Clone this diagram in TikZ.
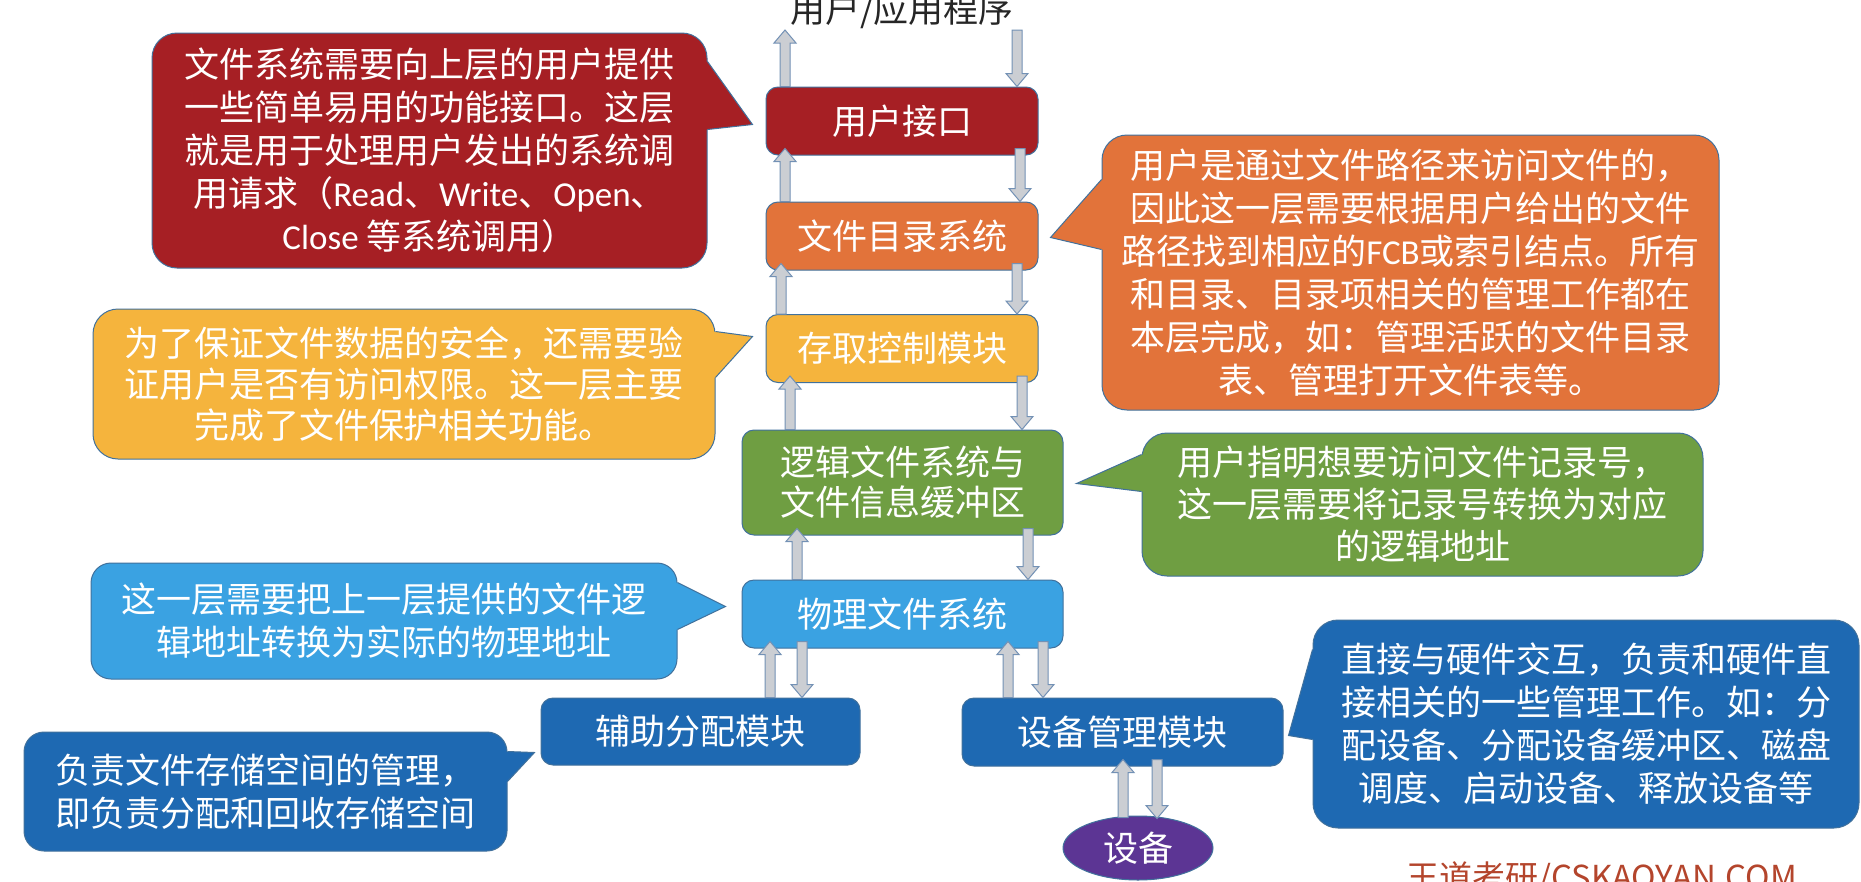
\documentclass[tikz,border=0pt]{standalone}
\usepackage{fontspec}
\setmainfont{Noto Sans CJK SC}
\newfontfamily\lat{Carlito}
\usetikzlibrary{calc,shapes.geometric}
\definecolor{cred}{HTML}{A61F24}
\definecolor{corg}{HTML}{E2733A}
\definecolor{camb}{HTML}{F5B43D}
\definecolor{cgrn}{HTML}{6F9E42}
\definecolor{clb}{HTML}{3AA2E2}
\definecolor{cdb}{HTML}{1E69B2}
\definecolor{cpur}{HTML}{5C3594}
\definecolor{edgec}{HTML}{41719C}
\definecolor{arrf}{HTML}{CBCED3}
\definecolor{arrd}{HTML}{7391B5}
\definecolor{wmc}{HTML}{B4452C}
\tikzset{
 lay/.style={draw=edgec, line width=1pt, fill=#1, rounded corners=12pt, text=white, inner sep=0pt,
   minimum height=68pt, minimum width=272pt, font=\fontsize{35}{40}\selectfont, align=center},
 call/.style={draw=edgec, line width=1pt, fill=#1, rounded corners=25pt, text=white, inner sep=0pt,
   font=\fontsize{35}{43}\selectfont, align=center},
 blk/.style={draw=arrd, fill=arrf, line width=1pt, line join=miter},
 ptr/.style={draw=edgec, line width=1pt},
}
\newcommand\UpArr[2]{\draw[blk] let \p1=#1, \p2=#2 in (\x1-5pt,\y1) -- (\x1-5pt,\y2-13pt) -- (\x1-11pt,\y2-13pt) -- (\x1,\y2) -- (\x1+11pt,\y2-13pt) -- (\x1+5pt,\y2-13pt) -- (\x1+5pt,\y1) -- cycle;}
\newcommand\DnArr[2]{\draw[blk] let \p1=#1, \p2=#2 in (\x1-5pt,\y1) -- (\x1-5pt,\y2+13pt) -- (\x1-11pt,\y2+13pt) -- (\x1,\y2) -- (\x1+11pt,\y2+13pt) -- (\x1+5pt,\y2+13pt) -- (\x1+5pt,\y1) -- cycle;}
\newcommand\Ptr[5]{%
 \fill[#1] let \p1=#2, \p2=#3, \p3=#4 in (\x1,\y1) -- (\x3,\y3) -- (\x2,\y2) -- (\x2#5,\y2) -- (\x1#5,\y1) -- cycle;
 \draw[ptr] #2 -- #4 -- #3;}
\begin{document}
\begin{tikzpicture}[x=1pt,y=-1pt]
\useasboundingbox (0,0) rectangle (1861,881);
\fill[white] (0,0) rectangle (1861,881);

% title and watermark
\node[anchor=base, font=\fontsize{35}{42}\selectfont, text=black!85] (app) at (902,22) {用户/应用程序};
\node[anchor=base, font=\fontsize{33}{40}\selectfont, text=wmc] (wmk) at (1602,889) {王道考研/CSKAOYAN.COM};

% layers
\node[lay=cred] (ui) at (902,121) {用户接口};
\node[lay=corg] (fd) at (902,236) {文件目录系统};
\node[lay=camb] (ac) at (902,348.5) {存取控制模块};
\node[lay=cgrn, minimum width=321pt, minimum height=105pt] (lg) at (902.5,482.5) {逻辑文件系统与\\文件信息缓冲区};
\node[lay=clb, minimum width=321pt] (ph) at (902.5,614) {物理文件系统};
\node[lay=cdb, minimum width=319pt, minimum height=67pt] (aux) at (700.5,731.5) {辅助分配模块};
\node[lay=cdb, minimum width=321pt] (dm) at (1122.5,732) {设备管理模块};
\node[ellipse, draw=edgec, line width=1pt, fill=cpur, text=white, inner sep=0pt, minimum width=150pt, minimum height=64pt,
  font=\fontsize{35}{40}\selectfont] (dev) at (1138,848) {设备};

% callouts
\node[call=cred, minimum width=555pt, minimum height=235pt] (rc) at (429.5,150.5)
 {文件系统需要向上层的用户提供\\一些简单易用的功能接口。这层\\就是用于处理用户发出的系统调\\用请求（{\lat Read}、{\lat Write}、{\lat Open}、\\{\lat Close} 等系统调用）};
\node[call=corg, minimum width=617pt, minimum height=275pt] (oc) at (1410.5,272.5)
 {用户是通过文件路径来访问文件的，\\因此这一层需要根据用户给出的文件\\路径找到相应的{\lat FCB}或索引结点。所有\\和目录、目录项相关的管理工作都在\\本层完成，如：管理活跃的文件目录\\表、管理打开文件表等。};
\node[call=camb, minimum width=622pt, minimum height=150pt, font=\fontsize{35}{41}\selectfont] (yc) at (404,384)
 {为了保证文件数据的安全，还需要验\\证用户是否有访问权限。这一层主要\\完成了文件保护相关功能。};
\node[call=cgrn, minimum width=561pt, minimum height=143pt, font=\fontsize{35}{42}\selectfont] (gc) at (1422.5,504.5)
 {用户指明想要访问文件记录号，\\这一层需要将记录号转换为对应\\的逻辑地址};
\node[call=clb, minimum width=586pt, minimum height=116pt, rounded corners=20pt] (bc) at (384,621)
 {这一层需要把上一层提供的文件逻\\辑地址转换为实际的物理地址};
\node[call=cdb, minimum width=483pt, minimum height=119pt, rounded corners=20pt] (xc) at (265.5,791.5)
 {负责文件存储空间的管理，\\即负责分配和回收存储空间};
\node[call=cdb, minimum width=546pt, minimum height=208pt] (dc) at (1586,724)
 {直接与硬件交互，负责和硬件直\\接相关的一些管理工作。如：分\\配设备、分配设备缓冲区、磁盘\\调度、启动设备、释放设备等};

% pointers
\Ptr{cred}{($(rc.north east)+(0,29)$)}{($(rc.north east)+(0,97)$)}{($(rc.north east)+(45,92)$)}{-3pt}
\Ptr{corg}{($(oc.north west)+(0,45)$)}{($(oc.north west)+(0,115)$)}{($(oc.north west)+(-51,103)$)}{+3pt}
\Ptr{camb}{($(yc.north east)+(0,23)$)}{($(yc.north east)+(0,69)$)}{($(yc.north east)+(37,28)$)}{-3pt}
\Ptr{cgrn}{($(gc.north west)+(0,22)$)}{($(gc.north west)+(0,59)$)}{($(gc.north west)+(-65,51)$)}{+3pt}
\Ptr{clb}{($(bc.north east)+(0,20)$)}{($(bc.north east)+(0,67)$)}{($(bc.north east)+(48,44)$)}{-3pt}
\Ptr{cdb}{($(xc.north east)+(0,20)$)}{($(xc.north east)+(0,50)$)}{($(xc.north east)+(27,21)$)}{-3pt}
\Ptr{cdb}{($(dc.north west)+(0,30)$)}{($(dc.north west)+(0,120)$)}{($(dc.north west)+(-24,116)$)}{+3pt}

% arrows
\coordinate (t1) at (785,30);
\coordinate (t2) at (1017,30);
\UpArr{($(ui.north)+(-117,0)$)}{(t1)}
\DnArr{(t2)}{($(ui.north)+(115,0)$)}
\UpArr{($(fd.north)+(-117,0)$)}{($(ui.south)+(-117,-7)$)}
\DnArr{($(ui.south)+(118,-7)$)}{($(fd.north)+(118,0)$)}
\UpArr{($(ac.north)+(-121,0)$)}{($(fd.south)+(-121,-7)$)}
\DnArr{($(fd.south)+(115,-7)$)}{($(ac.north)+(115,0)$)}
\UpArr{($(lg.north)+(-112.5,0)$)}{($(ac.south)+(-112,-7)$)}
\DnArr{($(ac.south)+(120,-7)$)}{($(lg.north)+(119.5,0)$)}
\UpArr{($(ph.north)+(-105.5,0)$)}{($(lg.south)+(-105.5,-7)$)}
\DnArr{($(lg.south)+(125.5,-7)$)}{($(ph.north)+(125.5,0)$)}
\UpArr{($(aux.north)+(69.5,0)$)}{($(ph.south)+(-132.5,-7)$)}
\DnArr{($(ph.south)+(-100.5,-7)$)}{($(aux.north)+(101.5,0)$)}
\UpArr{($(dm.north)+(-114.5,0)$)}{($(ph.south)+(105.5,-7)$)}
\DnArr{($(ph.south)+(140.5,-7)$)}{($(dm.north)+(-79.5,0)$)}
\UpArr{($(dev.north)+(-15,2)$)}{($(dm.south)+(0.5,-7)$)}
\DnArr{($(dm.south)+(34.5,-7)$)}{($(dev.north)+(19,3)$)}
\end{tikzpicture}
\end{document}
